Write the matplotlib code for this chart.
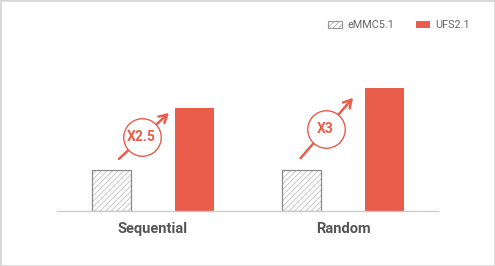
import numpy as np
import matplotlib.pyplot as plt
from matplotlib.patches import Patch, Rectangle

categories = ['Sequential', 'Random']
emmc = [1.0, 1.0]
ufs = [2.5, 3.0]
ratio_labels = ['X2.5', 'X3']
series_names = ['eMMC5.1', 'UFS2.1']

red = '#e95d4b'
gray_text = '#555555'

plt.rcParams['font.family'] = ['Roboto', 'DejaVu Sans']
plt.rcParams['hatch.linewidth'] = 0.5

fig = plt.figure(figsize=(4.95, 2.66), dpi=100)
ax = fig.add_axes([57 / 495, 55 / 266, 381 / 495, 171 / 266])

x = np.arange(len(categories))
w = 0.205
off = 0.218
# light hatch fill, then a darker outline on top
ax.bar(x - off, emmc, w, color='white', edgecolor='#b5b5b5', linewidth=0,
       hatch='//////', zorder=2)
ax.bar(x - off, emmc, w, fill=False, edgecolor='#8a8a8a', linewidth=0.9, zorder=2)
ax.bar(x + off, ufs, w, color=red, linewidth=0, zorder=2)

# growth markers: arrow through a circled ratio label
circ = [(-0.06, 1.81), (0.909, 1.99)]
arrows = [((-0.179, 1.27), (0.084, 2.39)), ((0.777, 1.29), (1.053, 2.76))]
for (cx, cy), (p0, p1), lab in zip(circ, arrows, ratio_labels):
    ax.annotate('', xy=p1, xytext=p0,
                arrowprops=dict(arrowstyle='->,head_length=0.55,head_width=0.32',
                                color=red, lw=1.8, shrinkA=0, shrinkB=0),
                zorder=3)
    ax.plot(cx, cy, 'o', ms=27, mfc='white', mec=red, mew=1.0, zorder=4)
    ax.text(cx, cy, lab, color=red, fontsize=10, fontweight='bold',
            ha='center', va='center', zorder=5)

ax.set_xlim(-0.505, 1.5)
ax.set_ylim(0, 4.17)
for s in ['top', 'right', 'left']:
    ax.spines[s].set_visible(False)
ax.spines['bottom'].set_color('#cccccc')
ax.spines['bottom'].set_linewidth(1)
ax.set_yticks([])
ax.set_xticks(x)
ax.set_xticklabels(categories, fontsize=10.5, fontweight='bold', color=gray_text)
ax.tick_params(axis='x', length=0, pad=8)

handles = [Patch(facecolor='white', edgecolor='#999999', hatch='//////', linewidth=0.8),
           Patch(facecolor=red, linewidth=0)]
fig.legend(handles, series_names, loc='center right', bbox_to_anchor=(480 / 495, 1 - 25 / 266),
           ncol=2, frameon=False, fontsize=7.8, labelcolor='#666666',
           handlelength=1.3, handleheight=0.6, handletextpad=0.5, columnspacing=2.0)

fig.patches.append(Rectangle((0, 0), 1, 1, transform=fig.transFigure, fill=False,
                             edgecolor='#d8d8d8', linewidth=2))

fig.savefig('out.png', dpi=100)
